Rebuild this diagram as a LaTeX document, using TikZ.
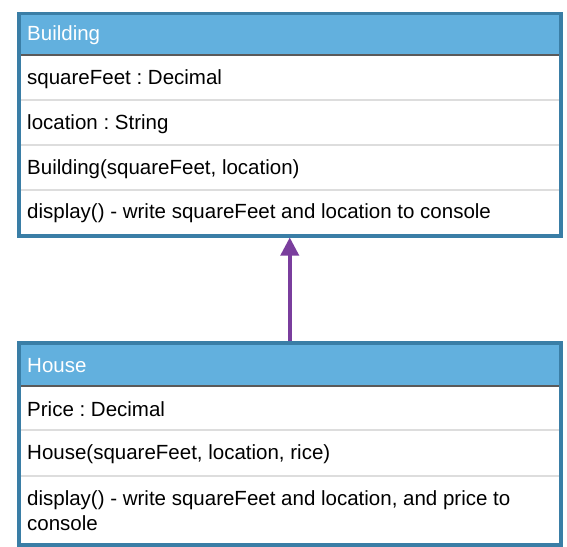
\documentclass[tikz,border=0pt]{standalone}
\usepackage{fontspec}
\setmainfont{Liberation Sans}
\frenchspacing
\usetikzlibrary{arrows.meta}
\definecolor{headcol}{HTML}{62B0DE}
\definecolor{bordercol}{HTML}{3A7EA6}
\definecolor{hsepcol}{HTML}{5A5A5A}
\definecolor{rsepcol}{HTML}{DDDDDD}
\definecolor{arrowcol}{HTML}{7A3E9D}
\tikzset{
  umlbox/.style={draw=bordercol, line width=3.5bp, minimum width=542bp, inner sep=0pt, anchor=north west},
  headsep/.style={draw=hsepcol, line width=1.5bp},
  rowsep/.style={draw=rsepcol, line width=1.2bp},
  txt/.style={anchor=west, inner sep=0pt, font=\fontsize{20.5bp}{25bp}\selectfont, text=black},
  headtxt/.style={txt, text=white},
  inherit/.style={draw=arrowcol, line width=3.5bp, -{Triangle[width=18bp,length=18bp]}}
}
\begin{document}
\begin{tikzpicture}[x=1bp,y=-1bp]
\useasboundingbox[fill=white] (0,0) rectangle (567,547);
% Building
\fill[headcol] (17,12) rectangle (559,55);
\draw[headsep] (17,55) -- (559,55);
\draw[rowsep] (17,100) -- (559,100);
\draw[rowsep] (17,145) -- (559,145);
\draw[rowsep] (17,190) -- (559,190);
\node[umlbox, minimum height=222bp] (building) at (17,12) {};
\node[headtxt] (bname) at (27,35.5) {Building};
\node[txt] (b1) at (27,79.5) {squareFeet : Decimal};
\node[txt] (b2) at (27,124.5) {location : String};
\node[txt] (b3) at (27,169.5) {Building(squareFeet, location)};
\node[txt] (b4) at (27,213.5) {display() - write squareFeet and location to console};
% House
\fill[headcol] (17,341) rectangle (559,386);
\draw[headsep] (17,386) -- (559,386);
\draw[rowsep] (17,430) -- (559,430);
\draw[rowsep] (17,476) -- (559,476);
\node[umlbox, minimum height=202bp] (house) at (17,341) {};
\node[headtxt] (hname) at (27,365.5) {House};
\node[txt] (h1) at (27,409.5) {Price : Decimal};
\node[txt] (h2) at (27,454.5) {House(squareFeet, location, rice)};
\node[txt, align=left] (h3) at (27,511) {display() - write squareFeet and location, and price to\\console};
% inheritance
\draw[inherit] (house.north) -- (building.south);
\end{tikzpicture}
\end{document}
